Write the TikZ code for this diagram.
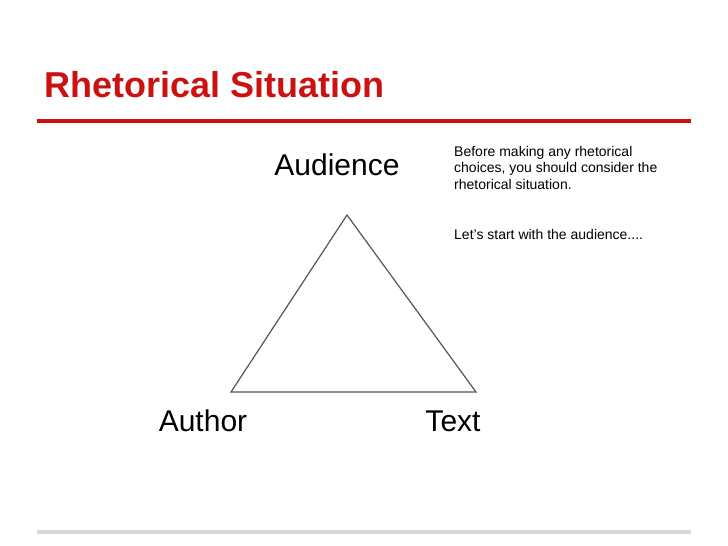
\documentclass[tikz,border=0pt]{standalone}
\usepackage{fontspec}
\setmainfont{Liberation Sans}
\definecolor{tred}{HTML}{CC1111}
\definecolor{lgray}{HTML}{D8D8D8}
\definecolor{tri}{HTML}{555555}
\begin{document}
\begin{tikzpicture}[x=1pt,y=-1pt,
  lbl/.style={inner sep=0pt,font=\fontsize{30}{34}\selectfont},
  para/.style={inner sep=0pt,anchor=north west,align=left,font=\fontsize{14}{16.5}\selectfont}]
\useasboundingbox (0,0) rectangle (728,546);
\node[anchor=base west,inner sep=0pt,text=tred,font=\fontsize{36}{40}\selectfont\bfseries] (title) at (44,97) {Rhetorical Situation};
\draw[tred,line width=4pt] (37,121) -- (691,121);
\draw[lgray,line width=4pt] (37,532) -- (691,532);
\coordinate (A) at (347,215);
\coordinate (L) at (231,392);
\coordinate (R) at (476,392);
\draw[tri,line width=1.2pt] (A) -- (L) -- (R) -- cycle;
\node[lbl] (aud) at (337,165) {Audience};
\node[lbl] (auth) at (203,421) {Author};
\node[lbl] (text) at (453,421) {Text};
\node[para] (p1) at (454,146) {Before making any rhetorical\\choices, you should consider the\\rhetorical situation.};
\node[para] (p2) at (454,229) {Let{\char"27}s start with the audience....};
\end{tikzpicture}
\end{document}
